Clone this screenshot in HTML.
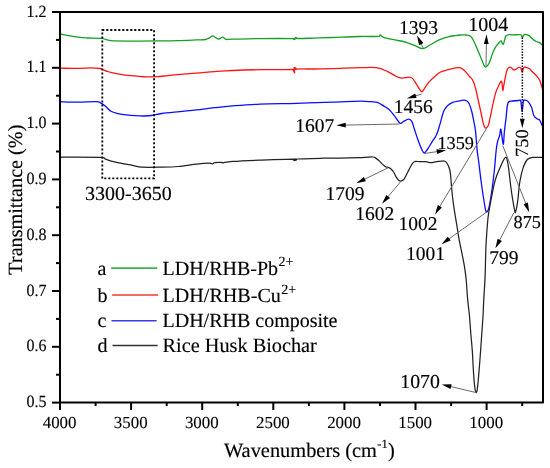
<!DOCTYPE html>
<html><head><meta charset="utf-8"><style>
html,body{margin:0;padding:0;background:#fff;}
body{width:550px;height:468px;overflow:hidden;}
svg{display:block;text-rendering:geometricPrecision;}
</style></head><body>
<svg width="550" height="468" viewBox="0 0 550 468">
<rect width="550" height="468" fill="#fff"/>
<g fill="none" stroke-width="1.3" stroke-linejoin="round">
<path d="M60.00 34.00C63.03 34.52 73.65 36.43 78.20 37.10C82.75 37.77 83.37 37.78 87.30 38.00C91.23 38.22 97.87 37.95 101.80 38.40C105.73 38.85 105.75 40.25 110.90 40.70C116.05 41.15 124.52 41.07 132.70 41.10C140.88 41.13 152.42 40.98 160.00 40.90C167.58 40.82 172.13 40.77 178.20 40.60C184.27 40.43 191.85 40.08 196.40 39.90C200.95 39.72 203.40 39.80 205.50 39.50C207.60 39.20 207.80 38.70 209.00 38.10C210.20 37.50 211.47 35.90 212.70 35.90C213.93 35.90 215.35 37.58 216.40 38.10C217.45 38.62 217.95 39.15 219.00 39.00C220.05 38.85 221.47 37.13 222.70 37.20C223.93 37.27 224.73 39.07 226.40 39.40C228.07 39.73 227.10 39.33 232.70 39.20C238.30 39.07 250.00 38.70 260.00 38.60C270.00 38.50 287.12 38.45 292.70 38.60C298.28 38.75 292.95 39.70 293.50 39.50C294.05 39.30 295.25 37.57 296.00 37.40C296.75 37.23 294.92 38.38 298.00 38.50C301.08 38.62 308.72 38.27 314.50 38.10C320.28 37.93 325.12 37.77 332.70 37.50C340.28 37.23 352.42 36.68 360.00 36.50C367.58 36.32 374.87 36.67 378.20 36.40C381.53 36.13 379.10 34.75 380.00 34.90C380.90 35.05 382.23 36.68 383.60 37.30C384.97 37.92 386.07 38.12 388.20 38.60C390.33 39.08 393.37 39.58 396.40 40.20C399.43 40.82 403.22 41.35 406.40 42.30C409.58 43.25 412.78 44.85 415.50 45.90C418.22 46.95 420.28 48.75 422.70 48.60C425.12 48.45 427.27 46.45 430.00 45.00C432.73 43.55 436.07 41.27 439.10 39.90C442.13 38.53 445.55 37.52 448.20 36.80C450.85 36.08 452.88 35.90 455.00 35.60C457.12 35.30 458.98 35.10 460.90 35.00C462.82 34.90 464.83 34.75 466.50 35.00C468.17 35.25 469.62 35.33 470.90 36.50C472.18 37.67 473.10 39.82 474.20 42.00C475.30 44.18 476.42 47.05 477.50 49.60C478.58 52.15 479.80 55.12 480.70 57.30C481.60 59.48 482.13 61.07 482.90 62.70C483.67 64.33 484.38 66.82 485.30 67.10C486.22 67.38 487.53 65.67 488.40 64.40C489.27 63.13 489.78 61.42 490.50 59.50C491.22 57.58 491.78 55.08 492.70 52.90C493.62 50.72 494.90 48.13 496.00 46.40C497.10 44.67 498.43 43.42 499.30 42.50C500.17 41.58 500.57 40.53 501.20 40.90C501.83 41.27 502.52 44.88 503.10 44.70C503.68 44.52 504.25 41.25 504.70 39.80C505.15 38.35 505.07 36.87 505.80 36.00C506.53 35.13 508.02 34.78 509.10 34.60C510.18 34.42 510.57 34.90 512.30 34.90C514.03 34.90 518.02 34.58 519.50 34.60C520.98 34.62 520.72 34.55 521.20 35.00C521.68 35.45 521.97 37.32 522.40 37.30C522.83 37.28 523.27 35.38 523.80 34.90C524.33 34.42 524.72 34.28 525.60 34.40C526.48 34.52 527.93 34.82 529.10 35.60C530.27 36.38 531.42 38.12 532.60 39.10C533.78 40.08 535.02 40.92 536.20 41.50C537.38 42.08 538.68 41.98 539.70 42.60C540.72 43.22 541.87 44.77 542.30 45.20" stroke="#14a024"/>
<path d="M60.00 68.20C63.03 68.23 73.05 68.47 78.20 68.40C83.35 68.33 87.27 67.78 90.90 67.80C94.53 67.82 97.88 68.13 100.00 68.50C102.12 68.87 102.27 69.48 103.60 70.00C104.93 70.52 106.43 71.12 108.00 71.60C109.57 72.08 110.40 72.37 113.00 72.90C115.60 73.43 119.70 74.27 123.60 74.80C127.50 75.33 132.58 75.75 136.40 76.10C140.22 76.45 143.12 76.82 146.50 76.90C149.88 76.98 153.45 76.78 156.70 76.60C159.95 76.42 163.03 76.08 166.00 75.80C168.97 75.52 171.00 75.23 174.50 74.90C178.00 74.57 182.75 74.15 187.00 73.80C191.25 73.45 195.42 73.17 200.00 72.80C204.58 72.43 209.05 71.98 214.50 71.60C219.95 71.22 225.12 70.82 232.70 70.50C240.28 70.18 249.87 69.87 260.00 69.70C270.13 69.53 287.80 69.83 293.50 69.50C299.20 69.17 294.02 67.15 294.20 67.70C294.38 68.25 294.43 72.53 294.60 72.80C294.77 73.07 291.88 69.93 295.20 69.30C298.52 68.67 308.25 69.12 314.50 69.00C320.75 68.88 325.12 68.82 332.70 68.60C340.28 68.38 352.72 67.85 360.00 67.70C367.28 67.55 371.85 67.08 376.40 67.70C380.95 68.32 383.97 69.93 387.30 71.40C390.63 72.87 393.98 75.38 396.40 76.50C398.82 77.62 399.68 77.98 401.80 78.10C403.92 78.22 407.28 77.12 409.10 77.20C410.92 77.28 411.48 77.45 412.70 78.60C413.92 79.75 415.18 82.22 416.40 84.10C417.62 85.98 419.03 88.65 420.00 89.90C420.97 91.15 421.28 92.12 422.20 91.60C423.12 91.08 424.35 88.42 425.50 86.80C426.65 85.18 427.60 83.57 429.10 81.90C430.60 80.23 432.68 78.40 434.50 76.80C436.32 75.20 437.87 73.45 440.00 72.30C442.13 71.15 444.88 70.60 447.30 69.90C449.72 69.20 452.38 68.47 454.50 68.10C456.62 67.73 458.32 67.25 460.00 67.70C461.68 68.15 463.05 69.38 464.60 70.80C466.15 72.22 468.00 74.73 469.30 76.20C470.60 77.67 471.57 78.28 472.40 79.60C473.23 80.92 473.70 82.37 474.30 84.10C474.90 85.83 475.47 87.87 476.00 90.00C476.53 92.13 476.98 94.57 477.50 96.90C478.02 99.23 478.57 101.58 479.10 104.00C479.63 106.42 480.22 109.15 480.70 111.40C481.18 113.65 481.60 115.63 482.00 117.50C482.40 119.37 482.72 121.10 483.10 122.60C483.48 124.10 483.88 125.57 484.30 126.50C484.72 127.43 485.12 128.08 485.60 128.20C486.08 128.32 486.68 127.87 487.20 127.20C487.72 126.53 488.05 126.57 488.70 124.20C489.35 121.83 490.30 116.75 491.10 113.00C491.90 109.25 492.70 105.18 493.50 101.70C494.30 98.22 495.10 94.63 495.90 92.10C496.70 89.57 497.50 88.23 498.30 86.50C499.10 84.77 500.10 82.37 500.70 81.70C501.30 81.03 501.55 81.03 501.90 82.50C502.25 83.97 502.45 90.23 502.80 90.50C503.15 90.77 503.53 86.52 504.00 84.10C504.47 81.68 505.07 78.42 505.60 76.00C506.13 73.58 506.40 71.07 507.20 69.60C508.00 68.13 509.25 67.13 510.40 67.20C511.55 67.27 512.72 69.95 514.10 70.00C515.48 70.05 517.58 67.87 518.70 67.50C519.82 67.13 520.22 67.05 520.80 67.80C521.38 68.55 521.73 72.00 522.20 72.00C522.67 72.00 523.05 68.58 523.60 67.80C524.15 67.02 524.58 67.18 525.50 67.30C526.42 67.42 527.92 67.72 529.10 68.50C530.28 69.28 531.42 70.83 532.60 72.00C533.78 73.17 535.02 74.13 536.20 75.50C537.38 76.87 538.68 78.03 539.70 80.20C540.72 82.37 541.87 87.12 542.30 88.50" stroke="#ff1414"/>
<path d="M60.00 101.70C63.03 101.77 72.13 102.10 78.20 102.10C84.27 102.10 92.62 101.52 96.40 101.70C100.18 101.88 99.38 102.43 100.90 103.20C102.42 103.97 103.83 104.95 105.50 106.30C107.17 107.65 108.78 110.08 110.90 111.30C113.02 112.52 115.65 113.00 118.20 113.60C120.75 114.20 123.40 114.55 126.20 114.90C129.00 115.25 132.03 115.52 135.00 115.70C137.97 115.88 141.23 116.03 144.00 116.00C146.77 115.97 148.63 115.92 151.60 115.50C154.57 115.08 157.13 114.15 161.80 113.50C166.47 112.85 173.83 112.20 179.60 111.60C185.37 111.00 190.58 110.55 196.40 109.90C202.22 109.25 208.45 108.37 214.50 107.70C220.55 107.03 225.12 106.50 232.70 105.90C240.28 105.30 249.38 104.53 260.00 104.10C270.62 103.67 284.28 103.62 296.40 103.30C308.52 102.98 322.10 102.55 332.70 102.20C343.30 101.85 353.63 101.28 360.00 101.20C366.37 101.12 368.02 101.52 370.90 101.70C373.78 101.88 375.18 101.60 377.30 102.30C379.42 103.00 381.63 104.70 383.60 105.90C385.57 107.10 387.28 107.83 389.10 109.50C390.92 111.17 392.68 113.62 394.50 115.90C396.32 118.18 398.48 122.28 400.00 123.20C401.52 124.12 402.17 122.08 403.60 121.40C405.03 120.72 407.23 119.10 408.60 119.10C409.97 119.10 410.82 119.67 411.80 121.40C412.78 123.13 413.43 126.32 414.50 129.50C415.57 132.68 416.98 137.17 418.20 140.50C419.42 143.83 420.80 147.42 421.80 149.50C422.80 151.58 423.28 153.00 424.20 153.00C425.12 153.00 426.03 151.28 427.30 149.50C428.57 147.72 430.28 144.72 431.80 142.30C433.32 139.88 435.03 138.03 436.40 135.00C437.77 131.97 438.80 128.03 440.00 124.10C441.20 120.17 442.38 114.43 443.60 111.40C444.82 108.37 445.78 107.42 447.30 105.90C448.82 104.38 450.58 103.15 452.70 102.30C454.82 101.45 458.02 101.15 460.00 100.80C461.98 100.45 463.18 99.92 464.60 100.20C466.02 100.48 467.33 100.70 468.50 102.50C469.67 104.30 470.70 107.78 471.60 111.00C472.50 114.22 473.25 118.47 473.90 121.80C474.55 125.13 474.97 126.32 475.50 131.00C476.03 135.68 476.60 145.07 477.10 149.90C477.60 154.73 477.85 154.90 478.50 160.00C479.15 165.10 480.15 174.08 481.00 180.50C481.85 186.92 482.83 193.58 483.60 198.50C484.37 203.42 485.10 207.75 485.60 210.00C486.10 212.25 486.13 212.08 486.60 212.00C487.07 211.92 487.87 210.93 488.40 209.50C488.93 208.07 489.28 206.15 489.80 203.40C490.32 200.65 490.97 196.57 491.50 193.00C492.03 189.43 492.47 186.33 493.00 182.00C493.53 177.67 494.17 172.33 494.70 167.00C495.23 161.67 495.70 154.33 496.20 150.00C496.70 145.67 497.13 143.38 497.70 141.00C498.27 138.62 499.07 137.65 499.60 135.70C500.13 133.75 500.30 127.85 500.90 129.30C501.50 130.75 502.62 144.05 503.20 144.40C503.78 144.75 503.93 135.70 504.40 131.40C504.87 127.10 505.42 123.28 506.00 118.60C506.58 113.92 506.80 106.23 507.90 103.30C509.00 100.37 510.80 101.47 512.60 101.00C514.40 100.53 517.33 100.50 518.70 100.50C520.07 100.50 520.23 99.17 520.80 101.00C521.37 102.83 521.67 111.50 522.10 111.50C522.53 111.50 522.93 102.88 523.40 101.00C523.87 99.12 524.15 100.13 524.90 100.20C525.65 100.27 526.80 100.22 527.90 101.40C529.00 102.58 530.52 104.95 531.50 107.30C532.48 109.65 532.83 113.55 533.80 115.50C534.77 117.45 536.32 118.22 537.30 119.00C538.28 119.78 538.87 119.03 539.70 120.20C540.53 121.37 541.87 125.03 542.30 126.00" stroke="#0c0cff"/>
<path d="M60.00 157.20C66.67 157.23 92.42 157.07 100.00 157.40C107.58 157.73 103.08 158.45 105.50 159.20C107.92 159.95 109.97 160.87 114.50 161.90C119.03 162.93 128.15 164.52 132.70 165.40C137.25 166.28 137.25 166.90 141.80 167.20C146.35 167.50 153.93 167.32 160.00 167.20C166.07 167.08 172.13 167.02 178.20 166.50C184.27 165.98 191.27 164.65 196.40 164.10C201.53 163.55 206.28 163.23 209.00 163.20C211.72 163.17 211.78 164.00 212.70 163.90C213.62 163.80 212.98 162.87 214.50 162.60C216.02 162.33 220.43 162.27 221.80 162.30C223.17 162.33 220.88 162.95 222.70 162.80C224.52 162.65 226.48 161.85 232.70 161.40C238.92 160.95 249.78 160.48 260.00 160.10C270.22 159.72 288.25 159.03 294.00 159.10C299.75 159.17 294.25 160.52 294.50 160.50C294.75 160.48 290.65 159.38 295.50 159.00C300.35 158.62 316.18 158.35 323.60 158.20C331.02 158.05 334.23 158.18 340.00 158.10C345.77 158.02 352.75 157.88 358.20 157.70C363.65 157.52 369.67 156.85 372.70 157.00C375.73 157.15 375.27 157.92 376.40 158.60C377.53 159.28 378.45 160.13 379.50 161.10C380.55 162.07 381.70 163.45 382.70 164.40C383.70 165.35 384.70 166.33 385.50 166.80C386.30 167.27 386.68 166.93 387.50 167.20C388.32 167.47 389.38 167.60 390.40 168.40C391.42 169.20 392.70 170.67 393.60 172.00C394.50 173.33 394.97 175.03 395.80 176.40C396.63 177.77 397.78 179.42 398.60 180.20C399.42 180.98 399.88 181.18 400.70 181.10C401.52 181.02 402.68 180.48 403.50 179.70C404.32 178.92 404.88 177.68 405.60 176.40C406.32 175.12 407.07 173.43 407.80 172.00C408.53 170.57 409.18 169.27 410.00 167.80C410.82 166.33 411.78 164.27 412.70 163.20C413.62 162.13 414.28 161.65 415.50 161.40C416.72 161.15 418.33 161.67 420.00 161.70C421.67 161.73 423.68 161.43 425.50 161.60C427.32 161.77 429.08 162.70 430.90 162.70C432.72 162.70 434.58 161.87 436.40 161.60C438.22 161.33 440.37 161.17 441.80 161.10C443.23 161.03 444.07 160.72 445.00 161.20C445.93 161.68 446.67 162.78 447.40 164.00C448.13 165.22 448.87 166.67 449.40 168.50C449.93 170.33 450.30 172.62 450.60 175.00C450.90 177.38 450.88 179.18 451.20 182.80C451.52 186.42 451.97 192.07 452.50 196.70C453.03 201.33 453.70 205.98 454.40 210.60C455.10 215.22 455.95 219.78 456.70 224.40C457.45 229.02 458.07 233.67 458.90 238.30C459.73 242.93 460.78 247.57 461.70 252.20C462.62 256.83 463.65 261.47 464.40 266.10C465.15 270.73 465.67 274.53 466.20 280.00C466.73 285.47 467.05 292.87 467.60 298.90C468.15 304.93 468.97 310.43 469.50 316.20C470.03 321.97 470.33 327.73 470.80 333.50C471.27 339.27 471.92 345.50 472.30 350.80C472.68 356.10 472.82 360.48 473.10 365.30C473.38 370.12 473.67 375.70 474.00 379.70C474.33 383.70 474.75 387.13 475.10 389.30C475.45 391.47 475.75 392.62 476.10 392.70C476.45 392.78 476.83 391.97 477.20 389.80C477.57 387.63 477.92 383.78 478.30 379.70C478.68 375.62 479.12 370.12 479.50 365.30C479.88 360.48 480.22 356.10 480.60 350.80C480.98 345.50 481.40 339.27 481.80 333.50C482.20 327.73 482.67 321.97 483.00 316.20C483.33 310.43 483.52 304.20 483.80 298.90C484.08 293.60 484.45 289.22 484.70 284.40C484.95 279.58 485.12 275.73 485.30 270.00C485.48 264.27 485.60 255.52 485.80 250.00C486.00 244.48 486.10 242.50 486.50 236.90C486.90 231.30 487.40 222.80 488.20 216.40C489.00 210.00 490.15 204.48 491.30 198.50C492.45 192.52 493.65 185.63 495.10 180.50C496.55 175.37 498.27 171.55 500.00 167.70C501.73 163.85 504.15 157.87 505.50 157.40C506.85 156.93 507.13 159.38 508.10 164.90C509.07 170.42 510.23 183.03 511.30 190.50C512.37 197.97 513.78 206.13 514.50 209.70C515.22 213.27 515.07 213.32 515.60 211.90C516.13 210.48 517.00 206.20 517.70 201.20C518.40 196.20 518.92 187.42 519.80 181.90C520.68 176.38 521.75 171.83 523.00 168.10C524.25 164.37 525.70 161.28 527.30 159.50C528.90 157.72 530.28 157.75 532.60 157.40C534.92 157.05 539.55 157.40 541.20 157.40C542.85 157.40 542.28 157.40 542.50 157.40" stroke="#222" stroke-width="1.25"/>
</g>
<rect x="102.3" y="30" width="51.8" height="148.4" fill="none" stroke="#000" stroke-width="1.8" stroke-dasharray="2 2"/>
<line x1="423.2" y1="48.0" x2="420.8" y2="43.2" stroke="#6a6a6a" stroke-width="1.0"/><polygon points="417.0,35.6 423.4,43.0 419.1,45.2" fill="#000"/>
<line x1="486.0" y1="66.0" x2="486.4" y2="43.1" stroke="#6a6a6a" stroke-width="1.0"/><polygon points="486.5,34.6 488.7,44.1 483.9,44.1" fill="#000"/>
<line x1="421.8" y1="94.0" x2="414.9" y2="96.1" stroke="#6a6a6a" stroke-width="1.0"/><polygon points="406.8,98.5 415.2,93.5 416.6,98.1" fill="#000"/>
<line x1="399.5" y1="124.0" x2="344.8" y2="125.1" stroke="#6a6a6a" stroke-width="1.0"/><polygon points="336.3,125.3 345.7,122.7 345.8,127.5" fill="#000"/>
<line x1="424.4" y1="153.5" x2="437.8" y2="151.5" stroke="#6a6a6a" stroke-width="1.0"/><polygon points="446.2,150.2 437.2,154.0 436.4,149.2" fill="#000"/>
<line x1="388.2" y1="167.7" x2="363.9" y2="179.6" stroke="#6a6a6a" stroke-width="1.0"/><polygon points="356.3,183.3 363.8,177.0 365.9,181.3" fill="#000"/>
<line x1="400.9" y1="181.4" x2="387.5" y2="197.3" stroke="#6a6a6a" stroke-width="1.0"/><polygon points="382.0,203.8 386.3,195.0 390.0,198.1" fill="#000"/>
<line x1="486.5" y1="128.5" x2="439.4" y2="207.2" stroke="#6a6a6a" stroke-width="1.0"/><polygon points="435.0,214.5 437.8,205.1 441.9,207.6" fill="#000"/>
<line x1="487.0" y1="211.8" x2="448.4" y2="239.3" stroke="#6a6a6a" stroke-width="1.0"/><polygon points="441.5,244.2 447.8,236.7 450.6,240.6" fill="#000"/>
<line x1="475.8" y1="392.5" x2="450.1" y2="386.4" stroke="#6a6a6a" stroke-width="1.0"/><polygon points="441.8,384.5 451.6,384.3 450.5,389.0" fill="#000"/>
<line x1="513.7" y1="213.0" x2="499.3" y2="240.8" stroke="#6a6a6a" stroke-width="1.0"/><polygon points="495.4,248.3 497.6,238.8 501.9,241.0" fill="#000"/>
<line x1="502.7" y1="145.6" x2="526.1" y2="204.3" stroke="#6a6a6a" stroke-width="1.0"/><polygon points="529.2,212.2 523.5,204.3 527.9,202.5" fill="#000"/>
<line x1="522.4" y1="37.5" x2="522.3" y2="119.8" stroke="#000" stroke-width="1.5" stroke-dasharray="1.4 1.4"/><polygon points="522.3,128.3 519.9,118.8 524.7,118.8" fill="#000"/>
<g stroke="#000" stroke-width="2" fill="none" stroke-linejoin="round">
<rect x="60" y="12" width="483" height="390.6"/>
<line x1="52" y1="402.6" x2="60" y2="402.6"/>
<line x1="52" y1="346.8" x2="60" y2="346.8"/>
<line x1="52" y1="291.0" x2="60" y2="291.0"/>
<line x1="52" y1="235.2" x2="60" y2="235.2"/>
<line x1="52" y1="179.4" x2="60" y2="179.4"/>
<line x1="52" y1="123.6" x2="60" y2="123.6"/>
<line x1="52" y1="67.8" x2="60" y2="67.8"/>
<line x1="52" y1="12.0" x2="60" y2="12.0"/>
<line x1="56" y1="374.7" x2="60" y2="374.7"/>
<line x1="56" y1="318.9" x2="60" y2="318.9"/>
<line x1="56" y1="263.1" x2="60" y2="263.1"/>
<line x1="56" y1="207.3" x2="60" y2="207.3"/>
<line x1="56" y1="151.5" x2="60" y2="151.5"/>
<line x1="56" y1="95.7" x2="60" y2="95.7"/>
<line x1="56" y1="39.9" x2="60" y2="39.9"/>
<line x1="60.0" y1="402.6" x2="60.0" y2="410"/>
<line x1="131.1" y1="402.6" x2="131.1" y2="410"/>
<line x1="202.2" y1="402.6" x2="202.2" y2="410"/>
<line x1="273.3" y1="402.6" x2="273.3" y2="410"/>
<line x1="344.4" y1="402.6" x2="344.4" y2="410"/>
<line x1="415.5" y1="402.6" x2="415.5" y2="410"/>
<line x1="486.6" y1="402.6" x2="486.6" y2="410"/>
<line x1="95.6" y1="402.6" x2="95.6" y2="406"/>
<line x1="166.7" y1="402.6" x2="166.7" y2="406"/>
<line x1="237.8" y1="402.6" x2="237.8" y2="406"/>
<line x1="308.9" y1="402.6" x2="308.9" y2="406"/>
<line x1="380.0" y1="402.6" x2="380.0" y2="406"/>
<line x1="451.1" y1="402.6" x2="451.1" y2="406"/>
<line x1="522.2" y1="402.6" x2="522.2" y2="406"/>
</g>
<g font-family="Liberation Serif, serif" font-size="16" fill="#000" stroke="#000" stroke-width="0.12">
<text transform="translate(46.6 407.20) scale(1 1.07)" text-anchor="end">0.5</text>
<text transform="translate(46.6 351.40) scale(1 1.07)" text-anchor="end">0.6</text>
<text transform="translate(46.6 295.60) scale(1 1.07)" text-anchor="end">0.7</text>
<text transform="translate(46.6 239.80) scale(1 1.07)" text-anchor="end">0.8</text>
<text transform="translate(46.6 184.00) scale(1 1.07)" text-anchor="end">0.9</text>
<text transform="translate(46.6 128.20) scale(1 1.07)" text-anchor="end">1.0</text>
<text transform="translate(46.6 72.40) scale(1 1.07)" text-anchor="end">1.1</text>
<text transform="translate(46.6 16.60) scale(1 1.07)" text-anchor="end">1.2</text>
<text transform="translate(59.60 428.0)" font-size="16.9" text-anchor="middle">4000</text>
<text transform="translate(130.71 428.0)" font-size="16.9" text-anchor="middle">3500</text>
<text transform="translate(201.81 428.0)" font-size="16.9" text-anchor="middle">3000</text>
<text transform="translate(272.92 428.0)" font-size="16.9" text-anchor="middle">2500</text>
<text transform="translate(344.02 428.0)" font-size="16.9" text-anchor="middle">2000</text>
<text transform="translate(415.13 428.0)" font-size="16.9" text-anchor="middle">1500</text>
<text transform="translate(486.23 428.0)" font-size="16.9" text-anchor="middle">1000</text>
</g>
<g font-family="Liberation Serif, serif" font-size="19.5" fill="#000" stroke="#000" stroke-width="0.15">
<text x="398.9" y="33.9" font-size="19.5">1393</text>
<text x="468.3" y="30.5" font-size="20.0">1004</text>
<text x="393.7" y="112.7" font-size="19.5">1456</text>
<text x="295.3" y="132.3" font-size="19.5">1607</text>
<text x="437.4" y="148.5" font-size="18.3">1359</text>
<text x="325.4" y="200.0" font-size="19.5">1709</text>
<text x="355.3" y="219.6" font-size="19.5">1602</text>
<text x="398.6" y="230.4" font-size="19.5">1002</text>
<text x="405.9" y="260.4" font-size="19.5">1001</text>
<text x="400.3" y="388.2" font-size="19.8">1070</text>
<text x="489.3" y="264.4" font-size="19.5">799</text>
<text x="513.5" y="227.5" font-size="18.3">875</text>
<text x="85.0" y="200.0" font-size="20.0">3300-3650</text>
<text transform="translate(528.3 157) rotate(-90)" font-size="18.5">750</text>
</g>
<g font-family="Liberation Serif, serif" font-size="20" fill="#000" stroke="#000" stroke-width="0.15">
<text x="97.5" y="274.6">a</text>
<line x1="111.1" y1="268.1" x2="157.2" y2="268.1" stroke="#3fb04f" stroke-width="1.8"/>
<text x="162.5" y="274.6" font-size="20.0">LDH/RHB-Pb<tspan font-size="14" dy="-8.6" dx="0.3">2+</tspan></text>
<text x="97.5" y="302.3">b</text>
<line x1="112.1" y1="295.0" x2="158.1" y2="295.0" stroke="#f03a3a" stroke-width="1.3"/>
<text x="162.5" y="302.3" font-size="20.1">LDH/RHB-Cu<tspan font-size="14" dy="-8.6" dx="0.3">2+</tspan></text>
<text x="97.5" y="327.1">c</text>
<line x1="111.5" y1="320.8" x2="156.6" y2="320.8" stroke="#3a3af0" stroke-width="1.4"/>
<text x="162.5" y="327.1" font-size="20.0">LDH/RHB composite</text>
<text x="97.5" y="352.2">d</text>
<line x1="112.5" y1="345.5" x2="157.6" y2="345.5" stroke="#333" stroke-width="1.3"/>
<text x="162.5" y="352.2" font-size="20.3">Rice Husk Biochar</text>
</g>
<g font-family="Liberation Serif, serif" font-size="20" fill="#000" stroke="#000" stroke-width="0.15">
<text x="224.0" y="457.3" font-size="20.4">Wavenumbers (cm<tspan font-size="12.5" dy="-9" dx="0.3">-1</tspan><tspan dy="9" dx="0.3">)</tspan></text>
<text transform="translate(21.7 274.7) rotate(-90)" font-size="20.2">Transmittance (%)</text>
</g>
</svg>
</body></html>
